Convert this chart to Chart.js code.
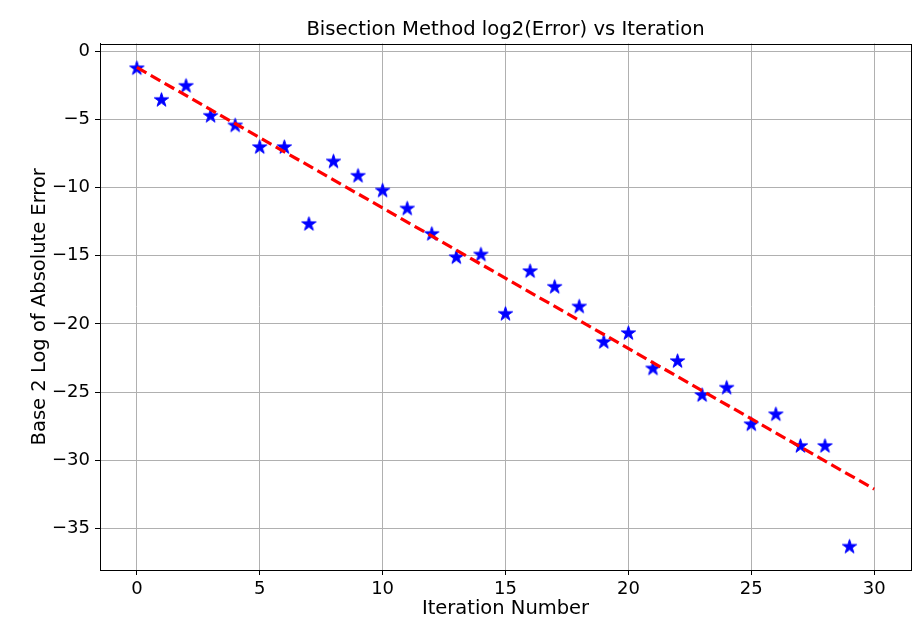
<!DOCTYPE html>
<html>
<head>
<meta charset="utf-8">
<script src="https://cdn.jsdelivr.net/npm/chart.js@4.4.1/dist/chart.umd.min.js"></script>
<style>
	html, body { margin: 0; padding: 0; background: #fff; }
	#wrap { width: 920px; height: 627px; }
</style>
</head>
<body>
<div id="wrap"><canvas id="bisectionChart" width="920" height="627"></canvas></div>
<script>
	// values
	const iterations = [0, 1, 2, 3, 4, 5, 6, 7, 8, 9, 10, 11, 12, 13, 14, 15, 16, 17, 18, 19, 20, 21, 22, 23, 24, 25, 26, 27, 28, 29];
	const log2Error = [-1.22, -3.54, -2.51, -4.71, -5.41, -7.0, -7.0, -12.63, -8.05, -9.1, -10.18, -11.5, -13.36, -15.07, -14.87, -19.22, -16.09, -17.24, -18.68, -21.28, -20.63, -23.22, -22.68, -25.17, -24.63, -27.31, -26.58, -28.9, -28.9, -36.28];
	const fitX = [0, 30];
	const fitY = [-1.2, -32.1];
	const xTicks = [0, 5, 10, 15, 20, 25, 30];
	const yTicks = [0, -5, -10, -15, -20, -25, -30, -35];

	(() => {
		'use strict'

		const fontFamily = '"DejaVu Sans", sans-serif';
		Chart.defaults.color = '#000';
		Chart.defaults.font.family = fontFamily;

		// filled five point star, like the matplotlib '*' marker
		function makeStar(size, color) {
			const c = document.createElement('canvas');
			c.width = size;
			c.height = size;
			const ctx = c.getContext('2d');
			const cx = size / 2;
			const cy = size / 2;
			const outer = size / 2 - 1;
			const inner = outer * 0.381966;
			ctx.beginPath();
			for (let i = 0; i < 10; i++) {
				const r = i % 2 === 0 ? outer : inner;
				const a = -Math.PI / 2 + i * Math.PI / 5;
				const px = cx + r * Math.cos(a);
				const py = cy + r * Math.sin(a) + outer * 0.1;
				if (i === 0) ctx.moveTo(px, py); else ctx.lineTo(px, py);
			}
			ctx.closePath();
			ctx.fillStyle = color;
			ctx.fill();
			ctx.lineWidth = 1;
			ctx.strokeStyle = color;
			ctx.stroke();
			return c;
		}

		const star = makeStar(17, '#0000ff');

		const framePlugin = {
			id: 'frame',
			afterDraw(chart) {
				const a = chart.chartArea;
				const ctx = chart.ctx;
				ctx.save();
				ctx.strokeStyle = '#000';
				ctx.lineWidth = 1;
				ctx.strokeRect(Math.round(a.left) + 0.5, Math.round(a.top) + 0.5, Math.round(a.right - a.left), Math.round(a.bottom - a.top));
				ctx.restore();
			}
		};

		const minusSign = (value) => String(value).replace('-', '\u2212');

		new Chart(document.getElementById('bisectionChart'), {
			type: 'scatter',
			data: {
				datasets: [
					{
						type: 'line',
						label: 'fit',
						data: fitX.map((x, i) => ({ x: x, y: fitY[i] })),
						borderColor: '#ff0000',
						backgroundColor: 'transparent',
						borderWidth: 3.2,
						borderDash: [11, 5],
						pointRadius: 0,
						fill: false
					},
					{
						label: 'log2 error',
						data: iterations.map((x, i) => ({ x: x, y: log2Error[i] })),
						pointStyle: star,
						pointRadius: 7,
						backgroundColor: '#0000ff',
						borderColor: '#0000ff'
					}
				]
			},
			options: {
				responsive: false,
				animation: false,
				layout: {
					padding: { top: 0, right: 9, bottom: 0, left: 0 }
				},
				plugins: {
					legend: { display: false },
					tooltip: { enabled: false },
					title: {
						display: true,
						text: 'Bisection Method log2(Error) vs Iteration',
						fullSize: false,
						color: '#000',
						font: { family: fontFamily, size: 19.6, weight: 'normal' },
						padding: { top: 18, bottom: 2 }
					}
				},
				scales: {
					x: {
						type: 'linear',
						min: -1.5,
						max: 31.5,
						afterFit: function(scale) { scale.height = 57; },
						afterBuildTicks: function(scale) { scale.ticks = xTicks.map((v) => ({ value: v })); },
						grid: { color: '#b0b0b0', lineWidth: 1, tickColor: '#000', tickLength: 5, drawTicks: true },
						border: { display: true, color: '#000', width: 1 },
						ticks: {
							padding: 4,
							maxRotation: 0,
							font: { family: fontFamily, size: 18 },
							callback: minusSign
						},
						title: {
							display: true,
							text: 'Iteration Number',
							font: { family: fontFamily, size: 19.5 },
							padding: { top: 0, bottom: 6 }
						}
					},
					y: {
						type: 'linear',
						min: -38.03,
						max: 0.55,
						afterFit: function(scale) { scale.width = 100; },
						afterBuildTicks: function(scale) { scale.ticks = yTicks.map((v) => ({ value: v })); },
						grid: { color: '#b0b0b0', lineWidth: 1, tickColor: '#000', tickLength: 5, drawTicks: true },
						border: { display: true, color: '#000', width: 1 },
						ticks: {
							padding: 5,
							font: { family: fontFamily, size: 18 },
							callback: minusSign
						},
						title: {
							display: true,
							text: 'Base 2 Log of Absolute Error',
							font: { family: fontFamily, size: 19.5 },
							padding: { top: 28, bottom: 0 }
						}
					}
				}
			},
			plugins: [framePlugin]
		});
	})()
</script>
</body>
</html>
